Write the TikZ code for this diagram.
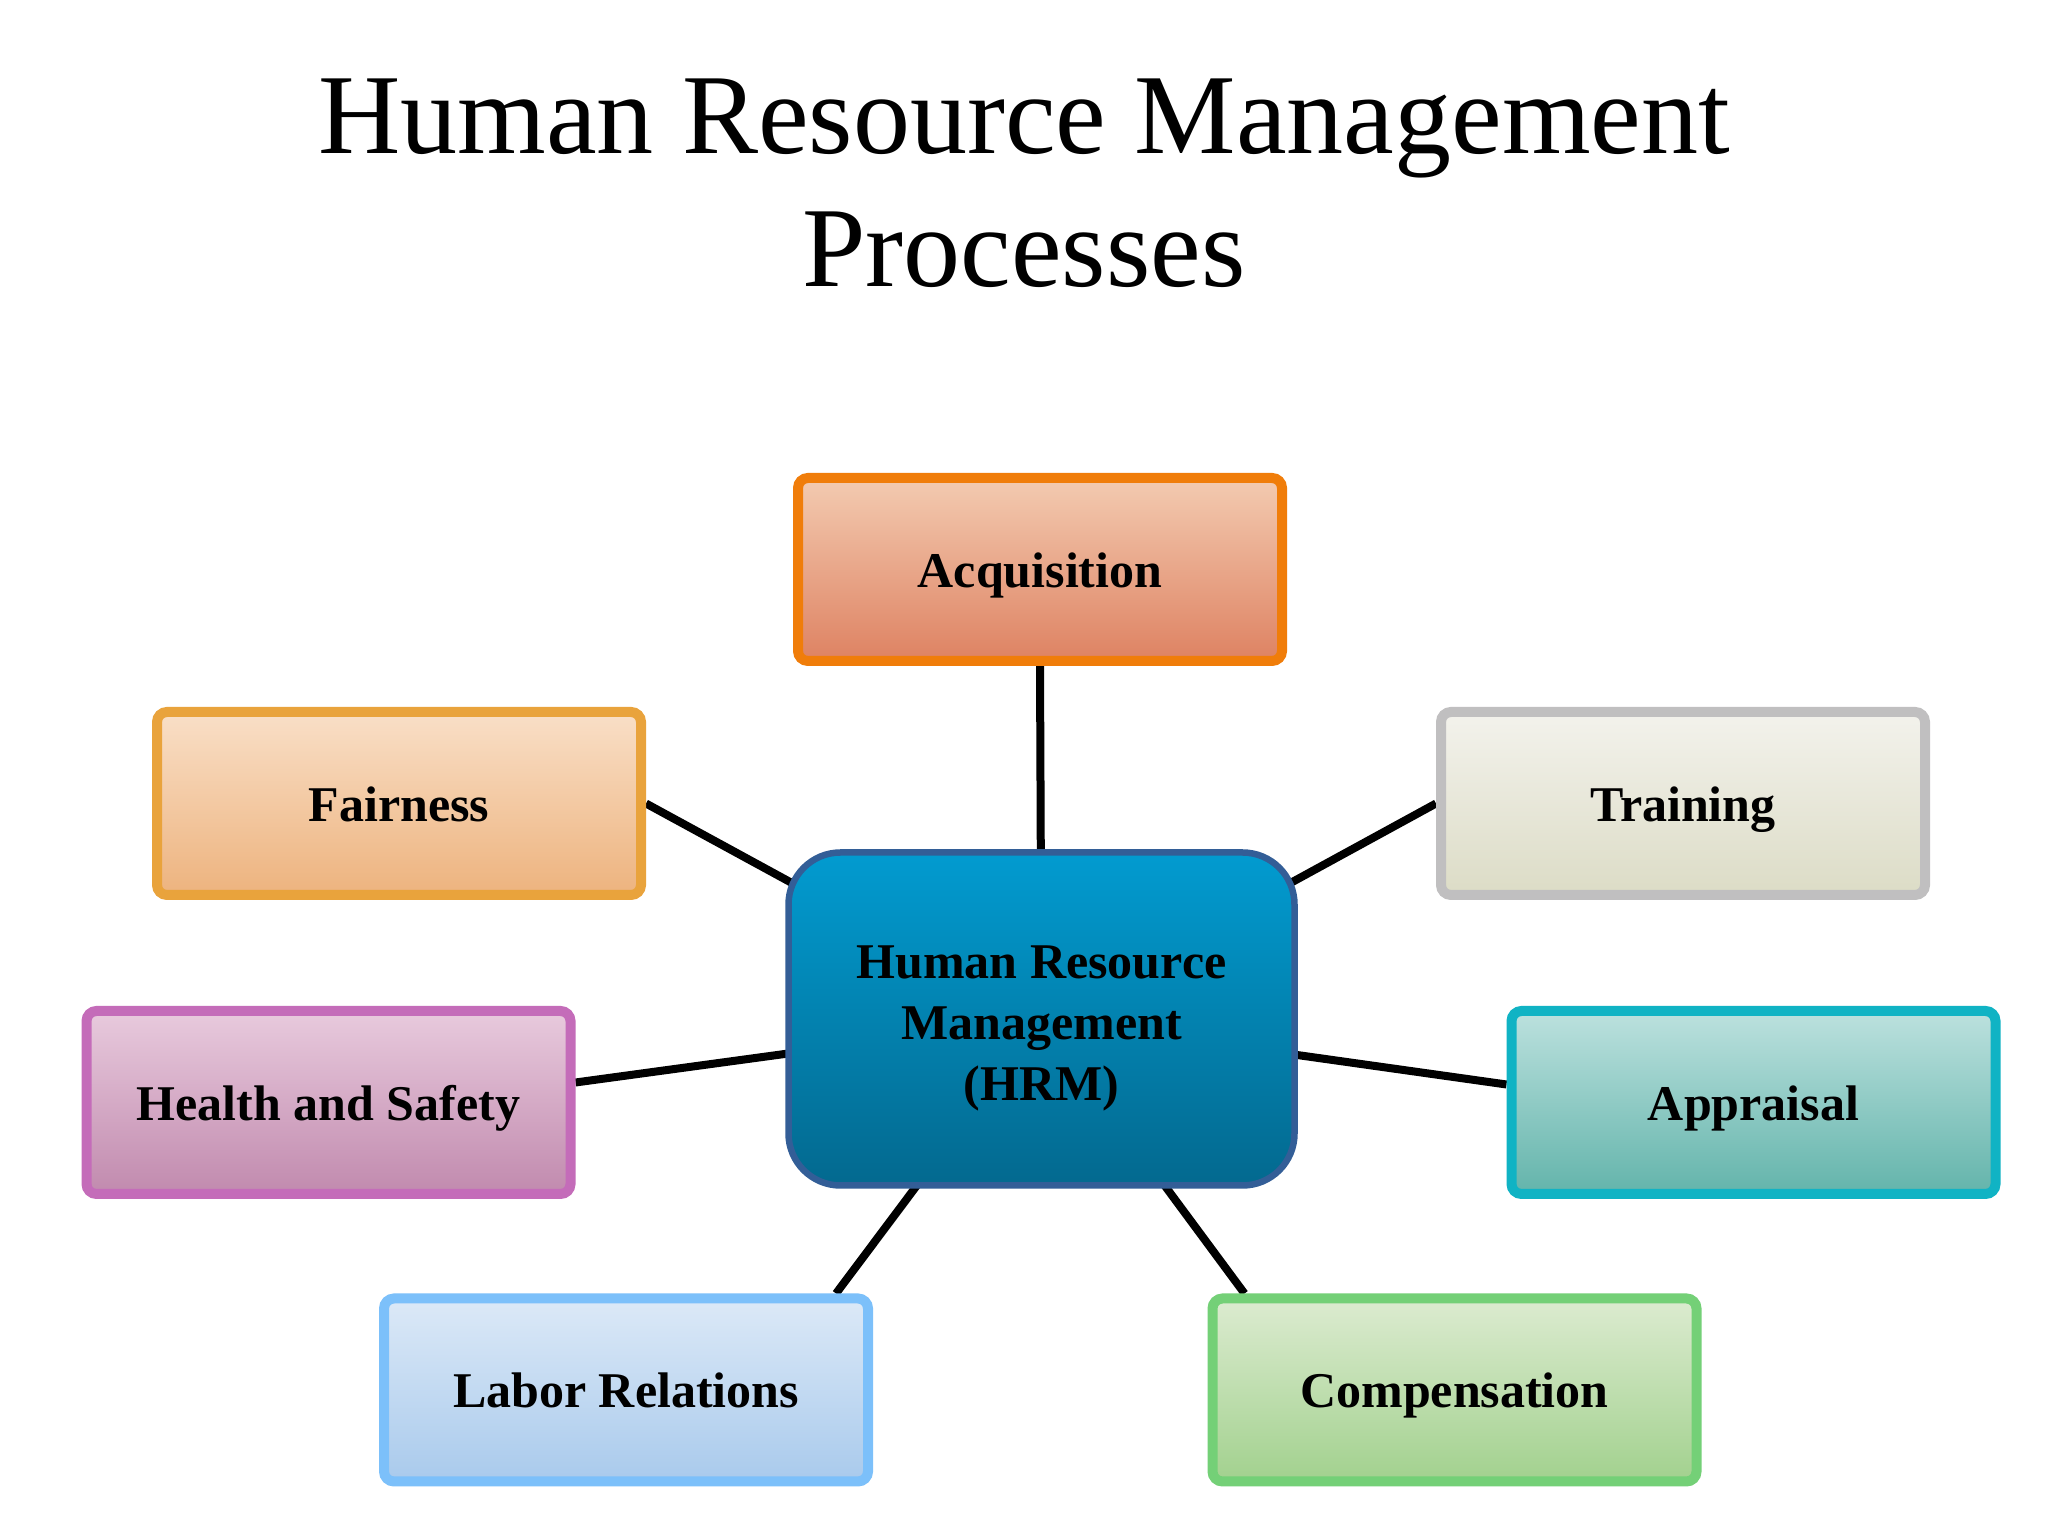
\documentclass[tikz,border=0pt]{standalone}
\usepackage{fontspec}
\setmainfont{Liberation Serif}
\usetikzlibrary{backgrounds}
\definecolor{acqT}{HTML}{F3CBB1}\definecolor{acqB}{HTML}{DE8262}\definecolor{acqD}{HTML}{F07D0A}
\definecolor{fairT}{HTML}{F9DFC7}\definecolor{fairB}{HTML}{EDB37E}\definecolor{fairD}{HTML}{E9A33C}
\definecolor{trT}{HTML}{F3F2EC}\definecolor{trB}{HTML}{DCDCC6}\definecolor{trD}{HTML}{C0BFC0}
\definecolor{heT}{HTML}{E8CADD}\definecolor{heB}{HTML}{C18AAE}\definecolor{heD}{HTML}{C46CB9}
\definecolor{apT}{HTML}{BCE1DE}\definecolor{apB}{HTML}{63B4AB}\definecolor{apD}{HTML}{10B3C4}
\definecolor{laT}{HTML}{DCE9F7}\definecolor{laB}{HTML}{A9CAEC}\definecolor{laD}{HTML}{7CC0FA}
\definecolor{coT}{HTML}{DCEBD0}\definecolor{coB}{HTML}{A2D18E}\definecolor{coD}{HTML}{74D077}
\definecolor{hrT}{HTML}{029BD0}\definecolor{hrB}{HTML}{03698F}\definecolor{hrD}{HTML}{335E97}
\tikzset{
  procbox/.style n args={3}{draw=#3, top color=#1, bottom color=#2, line width=10pt,
    rounded corners=10pt, minimum width=484pt, minimum height=183pt, inner sep=0pt,
    font=\fontsize{50}{61}\selectfont\bfseries, text height=36pt, text depth=0pt, align=center},
  hubbox/.style={draw=hrD, top color=hrT, bottom color=hrB, line width=6.5pt,
    rounded corners=52pt, minimum width=506pt, minimum height=333pt, inner sep=0pt,
    font=\fontsize{50}{61}\selectfont\bfseries, align=center},
  conn/.style={line width=8pt, black},
  titletext/.style={font=\fontsize{114}{133}\selectfont, anchor=base, inner sep=0pt}
}
\begin{document}
\begin{tikzpicture}[x=1pt,y=1pt]
\useasboundingbox (0,0) rectangle (2048,1536);
\node[titletext] (title1) at (1024,1382) {Human Resource Management};
\node[titletext] (title2) at (1024,1249) {Processes};
\node[hubbox] (hrm) at (1041.5,517) {\rule{0pt}{52pt}Human Resource\\Management\\(HRM)};
\node[procbox={acqT}{acqB}{acqD}] (acq) at (1040,966.5) {Acquisition};
\node[procbox={fairT}{fairB}{fairD}] (fair) at (399,732.5) {Fairness};
\node[procbox={trT}{trB}{trD}] (train) at (1683,732.5) {Training};
\node[procbox={heT}{heB}{heD}] (health) at (328.5,433.5) {Health and Safety};
\node[procbox={apT}{apB}{apD}] (appr) at (1753.5,433.5) {Appraisal};
\node[procbox={laT}{laB}{laD}] (labor) at (626,146) {Labor Relations};
\node[procbox={coT}{coB}{coD}] (comp) at (1454.5,146) {Compensation};
\begin{scope}[on background layer]
\fill[white] (0,0) rectangle (2048,1536);
\draw[conn] (acq.south) -- (hrm.center);
\draw[conn] (fair.east) -- (hrm.center);
\draw[conn] (train.west) -- (hrm.center);
\draw[conn] ([yshift=20pt]health.east) -- (hrm.center);
\draw[conn] ([yshift=18pt]appr.west) -- (hrm.center);
\draw[conn] ([xshift=-37pt]labor.north east) -- (hrm.center);
\draw[conn] ([xshift=37pt]comp.north west) -- (hrm.center);
\end{scope}
\end{tikzpicture}
\end{document}
